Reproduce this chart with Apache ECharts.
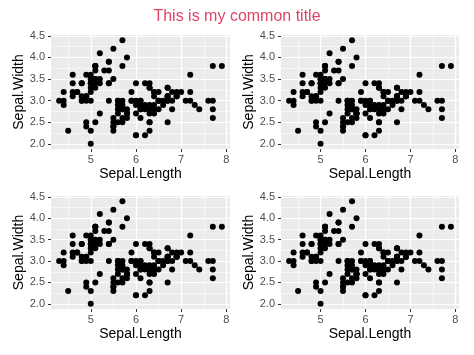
<!DOCTYPE html>
<html>
<head>
<meta charset="utf-8">
<script src="https://cdn.jsdelivr.net/npm/echarts@6/dist/echarts.min.js"></script>
<style>
  html, body { margin: 0; padding: 0; background: #fff; }
  #main { width: 474px; height: 355px; }
</style>
</head>
<body>
<div id="main"></div>
<script>
// iris: Sepal.Length / Sepal.Width
var sepalLength = [
  5.1,4.9,4.7,4.6,5.0,5.4,4.6,5.0,4.4,4.9,5.4,4.8,4.8,4.3,5.8,5.7,5.4,5.1,5.7,5.1,
  5.4,5.1,4.6,5.1,4.8,5.0,5.0,5.2,5.2,4.7,4.8,5.4,5.2,5.5,4.9,5.0,5.5,4.9,4.4,5.1,
  5.0,4.5,4.4,5.0,5.1,4.8,5.1,4.6,5.3,5.0,
  7.0,6.4,6.9,5.5,6.5,5.7,6.3,4.9,6.6,5.2,5.0,5.9,6.0,6.1,5.6,6.7,5.6,5.8,6.2,5.6,
  5.9,6.1,6.3,6.1,6.4,6.6,6.8,6.7,6.0,5.7,5.5,5.5,5.8,6.0,5.4,6.0,6.7,6.3,5.6,5.5,
  5.5,6.1,5.8,5.0,5.6,5.7,5.7,6.2,5.1,5.7,
  6.3,5.8,7.1,6.3,6.5,7.6,4.9,7.3,6.7,7.2,6.5,6.4,6.8,5.7,5.8,6.4,6.5,7.7,7.7,6.0,
  6.9,5.6,7.7,6.3,6.7,7.2,6.2,6.1,6.4,7.2,7.4,7.9,6.4,6.3,6.1,7.7,6.3,6.4,6.0,6.9,
  6.7,6.9,5.8,6.8,6.7,6.7,6.3,6.5,6.2,5.9
];
var sepalWidth = [
  3.5,3.0,3.2,3.1,3.6,3.9,3.4,3.4,2.9,3.1,3.7,3.4,3.0,3.0,4.0,4.4,3.9,3.5,3.8,3.8,
  3.4,3.7,3.6,3.3,3.4,3.0,3.4,3.5,3.4,3.2,3.1,3.4,4.1,4.2,3.1,3.2,3.5,3.6,3.0,3.4,
  3.5,2.3,3.2,3.5,3.8,3.0,3.8,3.2,3.7,3.3,
  3.2,3.2,3.1,2.3,2.8,2.8,3.3,2.4,2.9,2.7,2.0,3.0,2.2,2.9,2.9,3.1,3.0,2.7,2.2,2.5,
  3.2,2.8,2.5,2.8,2.9,3.0,2.8,3.0,2.9,2.6,2.4,2.4,2.7,2.7,3.0,3.4,3.1,2.3,3.0,2.5,
  2.6,3.0,2.6,2.3,2.7,3.0,2.9,2.9,2.5,2.8,
  3.3,2.7,3.0,2.9,3.0,3.0,2.5,2.9,2.5,3.6,3.2,2.7,3.0,2.5,2.8,3.2,3.0,3.8,2.6,2.2,
  3.2,2.8,2.8,2.7,3.3,3.2,2.8,3.0,2.8,3.0,2.8,3.8,2.8,2.8,2.6,3.0,3.4,3.1,3.0,3.1,
  3.1,3.1,2.7,3.2,3.3,3.0,2.5,3.0,3.4,3.0
];

var xTicks = [5, 6, 7, 8];
var xMinor = [4.5, 5.5, 6.5, 7.5];
var yTicks = [2.0, 2.5, 3.0, 3.5, 4.0, 4.5];
var yMinor = [2.25, 2.75, 3.25, 3.75, 4.25];
var xRange = [4.12, 8.08];
var yRange = [1.88, 4.52];

var titleText = 'This is my common title';
var xName = 'Sepal.Length';
var yName = 'Sepal.Width';

var points = sepalLength.map(function (v, i) { return [v, sepalWidth[i]]; });

var chart = echarts.init(document.getElementById('main'), null, { renderer: 'canvas' });

var grids = [
  { left: 51, top: 35, width: 179, height: 114 },
  { left: 281, top: 35, width: 178, height: 114 },
  { left: 51, top: 196, width: 179, height: 113 },
  { left: 281, top: 196, width: 178, height: 113 }
];

var font = 'Liberation Sans';
var xAxes = [], yAxes = [], series = [];

grids.forEach(function (g, i) {
  g.show = true;
  g.backgroundColor = '#EBEBEB';
  g.borderWidth = 0;
  xAxes.push({
    gridIndex: i, type: 'value', min: xRange[0], max: xRange[1],
    name: xName, nameLocation: 'middle', nameGap: 18,
    nameTextStyle: { fontFamily: font, fontSize: 14, color: '#000' },
    axisLine: { show: false },
    axisTick: { show: true, length: 3, customValues: xTicks, lineStyle: { color: '#333', width: 1 } },
    axisLabel: { customValues: xTicks, margin: 5, fontFamily: font, fontSize: 11, color: '#4D4D4D' },
    splitLine: { show: false }
  });
  yAxes.push({
    gridIndex: i, type: 'value', min: yRange[0], max: yRange[1],
    name: yName, nameLocation: 'middle', nameGap: 24,
    nameTextStyle: { fontFamily: font, fontSize: 14, color: '#000' },
    axisLine: { show: false },
    axisTick: { show: true, length: 3, customValues: yTicks, lineStyle: { color: '#333', width: 1 } },
    axisLabel: {
      customValues: yTicks, margin: 6, fontFamily: font, fontSize: 11, color: '#4D4D4D',
      formatter: function (v) { return v.toFixed(1); }
    },
    splitLine: { show: false }
  });

  // grid lines (minor + major) behind points
  var lines = [];
  xMinor.forEach(function (v) { lines.push({ xAxis: v, lineStyle: { width: 0.6 } }); });
  yMinor.forEach(function (v) { lines.push({ yAxis: v, lineStyle: { width: 0.6 } }); });
  xTicks.forEach(function (v) { lines.push({ xAxis: v, lineStyle: { width: 1.2 } }); });
  yTicks.forEach(function (v) { lines.push({ yAxis: v, lineStyle: { width: 1.2 } }); });
  series.push({
    type: 'scatter', xAxisIndex: i, yAxisIndex: i, data: [], z: 1, silent: true,
    markLine: {
      silent: true, symbol: 'none', z: 1, animation: false,
      label: { show: false },
      lineStyle: { color: '#FFFFFF', type: 'solid' },
      emphasis: { disabled: true },
      data: lines
    }
  });
  series.push({
    type: 'scatter', xAxisIndex: i, yAxisIndex: i, z: 3,
    symbolSize: 6,
    itemStyle: { color: '#000000', opacity: 1 },
    data: points
  });
});

var option = {
  backgroundColor: '#ffffff',
  animation: false,
  title: {
    text: titleText, left: 'center', top: 4,
    textStyle: { fontFamily: font, fontSize: 16, fontWeight: 'normal', color: '#DC4468' }
  },
  grid: grids,
  xAxis: xAxes,
  yAxis: yAxes,
  series: series
};

chart.setOption(option);
</script>
</body>
</html>
